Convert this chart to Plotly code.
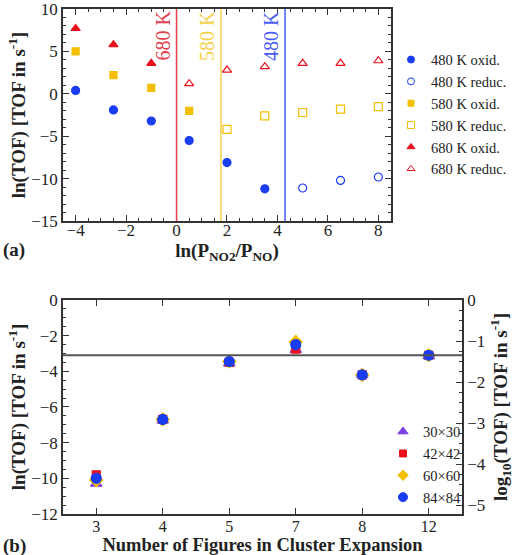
import plotly.graph_objects as go
import math

# ---- panel (a) data ----
x_oxid = [-4, -2.5, -1, 0.5, 2, 3.5]
x_ox3 = [-4, -2.5, -1]
x_ox4 = [-4, -2.5, -1, 0.5]
x_red3 = [5, 6.5, 8]
x_red5 = [2, 3.5, 5, 6.5, 8]
x_red6 = [0.5, 2, 3.5, 5, 6.5, 8]

k480_oxid = [0.4, -1.9, -3.2, -5.5, -8.1, -11.2]
k480_reduc = [-11.1, -10.2, -9.8]
k580_oxid = [5.0, 2.2, 0.7, -2.0]
k580_reduc = [-4.2, -2.6, -2.2, -1.8, -1.5]
k680_oxid = [7.7, 5.8, 3.6]
k680_reduc = [1.2, 2.8, 3.2, 3.6, 3.6, 3.9]

switch_x = [0, 1.76, 4.3]
switch_lbl = ["680 K", "580 K", "480 K"]

# ---- panel (b) data ----
n_figs = ["3", "4", "5", "7", "8", "12"]
lat30 = [-10.3, -6.75, -3.55, -2.8, -4.2, -3.15]
lat42 = [-9.8, -6.7, -3.5, -2.75, -4.2, -3.1]
lat60 = [-10.1, -6.7, -3.45, -2.35, -4.2, -3.1]
lat84 = [-10.0, -6.7, -3.45, -2.5, -4.2, -3.1]
ref_level = -3.1

BLUE = "#1a3cf2"
GOLD = "#f4bf00"
RED = "#e8101c"
PURPLE = "#7a3fe0"
SERIF = "Liberation Serif"

fig = go.Figure()

def pt(x, y, name, sym, col, size, lsize, leg="legend", xa="x", ya="y"):
    # real points (no legend) + small legend-only marker
    fig.add_trace(go.Scatter(x=x, y=y, name=name, mode="markers", showlegend=False,
                             xaxis=xa, yaxis=ya,
                             marker=dict(symbol=sym, color=col, size=size,
                                         line=dict(color=col, width=1.2))))
    fig.add_trace(go.Scatter(x=[None], y=[None], name=name, mode="markers", legend=leg,
                             xaxis=xa, yaxis=ya,
                             marker=dict(symbol=sym, color=col, size=lsize,
                                         line=dict(color=col, width=1))))

pt(x_oxid, k480_oxid, "480 K oxid.", "circle", BLUE, 8, 7)
pt(x_red3, k480_reduc, "480 K reduc.", "circle-open", BLUE, 8, 7)
pt(x_ox4, k580_oxid, "580 K oxid.", "square", GOLD, 7, 6)
pt(x_red5, k580_reduc, "580 K reduc.", "square-open", GOLD, 8, 7)
pt(x_ox3, k680_oxid, "680 K oxid.", "triangle-up", RED, 8, 7)
pt(x_red6, k680_reduc, "680 K reduc.", "triangle-up-open", RED, 8, 7)

xb = list(range(len(n_figs)))
pt(xb, lat30, "30×30", "triangle-up", PURPLE, 10, 9, "legend2", "x2", "y2")
pt(xb, lat42, "42×42", "square", RED, 8, 7, "legend2", "x2", "y2")
pt(xb, lat60, "60×60", "diamond", GOLD, 10, 8, "legend2", "x2", "y2")
pt(xb, lat84, "84×84", "circle", BLUE, 10, 9, "legend2", "x2", "y2")
# invisible trace to activate log10 axis
fig.add_trace(go.Scatter(x=[0], y=[0], xaxis="x2", yaxis="y3", mode="markers",
                         marker=dict(opacity=0), showlegend=False, hoverinfo="skip"))

line_cols = ["#e6404c", "#f2d24a", "#4a5cf2"]
for sx, lbl, c in zip(switch_x, switch_lbl, line_cols):
    fig.add_shape(type="line", xref="x", yref="y domain", x0=sx, x1=sx, y0=0, y1=1,
                  line=dict(color=c, width=1.5))
    fig.add_annotation(x=sx, y=10, xref="x", yref="y", text=lbl, textangle=-90,
                       showarrow=False, xanchor="right", yanchor="top", xshift=-1,
                       font=dict(family=SERIF, size=20, color=c))

fig.add_shape(type="line", xref="x2 domain", yref="y2", x0=0, x1=1,
              y0=ref_level, y1=ref_level, line=dict(color="#555555", width=1.8))

ax = dict(showline=True, linecolor="#333333", linewidth=1.5, ticks="inside",
          ticklen=6, tickcolor="#333333", showgrid=False, zeroline=False, automargin=False,
          ticklabeloverflow="allow",
          tickfont=dict(family=SERIF, size=17, color="#222"))
tfont = dict(family=SERIF, size=19, color="#222")

fig.update_layout(
    width=520, height=555, plot_bgcolor="white", paper_bgcolor="white",
    margin=dict(l=63, r=57, t=9, b=41),
    showlegend=True,
    xaxis=dict(ax, domain=[0, 0.822], range=[-4.5, 8.5], dtick=2, mirror="allticks",
               ticklabelstandoff=-7,
               minor=dict(dtick=0.5, ticks="inside", ticklen=3, tickcolor="#333"),
               title=dict(text="<b>ln(P<sub>NO2</sub>/P<sub>NO</sub>)</b>", font=tfont, standoff=2),
               anchor="y"),
    yaxis=dict(ax, domain=[0.58, 1], range=[-15, 10], dtick=5, mirror="allticks",
               minor=dict(dtick=1, ticks="inside", ticklen=3, tickcolor="#333"),
               title=dict(text="<b>ln(TOF) [TOF in s<sup>-1</sup>]</b>", font=tfont, standoff=1),
               anchor="x"),
    xaxis2=dict(ax, domain=[0, 1], range=[-0.5, 5.5], tickvals=xb, ticktext=n_figs,
                mirror="ticks", anchor="y2", ticklabelstandoff=-3,
                tickfont=dict(family=SERIF, size=16, color="#222"),
                title=dict(text="<b>Number of Figures in Cluster Expansion</b>",
                           font=dict(tfont, size=18.5), standoff=4)),
    yaxis2=dict(ax, domain=[0, 0.4238], range=[-12, 0], dtick=2, anchor="x2",
                minor=dict(dtick=0.5, ticks="inside", ticklen=3, tickcolor="#333"),
                title=dict(text="<b>ln(TOF) [TOF in s<sup>-1</sup>]</b>", font=tfont, standoff=1)),
    yaxis3=dict(ax, overlaying="y2", side="right", anchor="x2",
                range=[-12 / math.log(10), 0], dtick=1,
                minor=dict(dtick=0.25, ticks="inside", ticklen=3, tickcolor="#333"),
                title=dict(text="<b>log<sub>10</sub>(TOF) [TOF in s<sup>-1</sup>]</b>",
                           font=tfont, standoff=9)),
    legend=dict(x=0.82, xanchor="left", y=0.9315, yanchor="top", bgcolor="rgba(0,0,0,0)",
                font=dict(family=SERIF, size=14.5, color="#222"), itemwidth=30,
                tracegroupgap=0),
    legend2=dict(x=0.80, xanchor="left", y=0.1947, yanchor="top", bgcolor="rgba(0,0,0,0)",
                 font=dict(family=SERIF, size=14.5, color="#222"), itemwidth=30),
)

fig.add_annotation(text="<b>(a)</b>", xref="paper", yref="paper", x=-0.155, y=0.523,
                   showarrow=False, xanchor="left", yanchor="middle",
                   font=dict(family=SERIF, size=19, color="#222"))
fig.add_annotation(text="<b>(b)</b>", xref="paper", yref="paper", x=-0.155, y=-0.063,
                   showarrow=False, xanchor="left", yanchor="middle",
                   font=dict(family=SERIF, size=19, color="#222"))

fig.write_html("out.html", config={"displayModeBar": False},
               post_script="document.body.style.margin='0';")
